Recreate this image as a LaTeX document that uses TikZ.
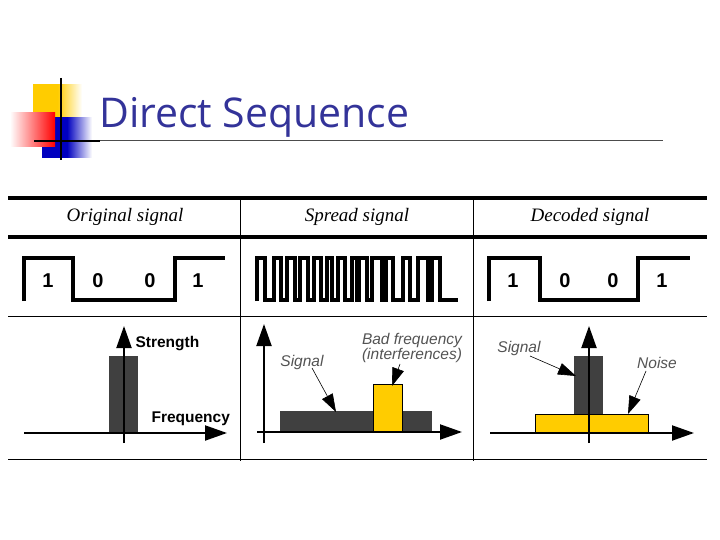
\documentclass[tikz,border=0pt]{standalone}
\usepackage{fontspec}
\setmainfont{Liberation Serif}
\setsansfont{Liberation Sans}
\newfontfamily\titlefont{Open Sans}
\usetikzlibrary{arrows.meta}
\definecolor{dark}{HTML}{404040}
\definecolor{gold}{HTML}{FFCC00}
\definecolor{navy}{HTML}{333399}
\tikzset{
 axis/.style={line width=2pt,-{Triangle[length=22pt,width=15pt]}},
 sig/.style={line width=3.5pt},
 rule/.style={line width=3.5pt},
 thin/.style={line width=1pt},
 hdr/.style={font=\itshape\fontsize{19}{21}\selectfont},
 digit/.style={font=\sffamily\bfseries\fontsize{20}{22}\selectfont},
 lab/.style={font=\sffamily\bfseries\fontsize{15.5}{17}\selectfont,anchor=west},
 note/.style={font=\sffamily\itshape\fontsize{15.5}{14}\selectfont,text=dark!90,align=center,inner sep=0pt},
 ptr/.style={line width=0.6pt,-{Triangle[length=18pt,width=12pt]}},
}
\begin{document}
\begin{tikzpicture}[x=1pt,y=-1pt]
\useasboundingbox (0,0) rectangle (720,540);
% logo
\shade[left color=gold,right color=white,middle color=gold] (33,85) rectangle (82,118);
\shade[left color=blue!75!black,right color=white,middle color=blue!75!black] (42,118) rectangle (92,158);
\shade[left color=white,right color=red] (10,113) rectangle (55,147);
\draw[line width=2pt] (61,78) -- (61,160);
\draw[line width=2pt] (34,141) -- (100,141);
\draw[line width=1pt,black!70] (100,141) -- (663,141);
\node[anchor=base west,text=navy,font=\titlefont\fontsize{41}{44}\selectfont,inner sep=0] (title) at (99,128) {Direct Sequence};
% table
\draw[rule] (8,198) -- (707,198);
\draw[rule] (8,237) -- (707,237);
\draw[thin] (8,316) -- (707,316);
\draw[thin] (8,459) -- (707,459);
\draw[thin] (240,198) -- (240,461);
\draw[thin] (473,198) -- (473,461);
\node[hdr] (h1) at (125,217) {Original signal};
\node[hdr] (h2) at (357,217) {Spread signal};
\node[hdr] (h3) at (590,217) {Decoded signal};
% original signal
\draw[sig] (24,301) -- (24,258) -- (73,258) -- (73,300) -- (175,300) -- (175,258) -- (225,258);
\node[digit] (d1) at (48,281) {1};
\node[digit] (d2) at (98,281) {0};
\node[digit] (d3) at (150,281) {0};
\node[digit] (d4) at (198,281) {1};
% decoded signal
\draw[sig] (489,301) -- (489,258) -- (540,258) -- (540,300) -- (638,300) -- (638,258) -- (690,258);
\node[digit] (e1) at (513,281) {1};
\node[digit] (e2) at (565,281) {0};
\node[digit] (e3) at (613,281) {0};
\node[digit] (e4) at (662,281) {1};
% spread signal
\draw[sig] (257,301) -- (257,258) -- (265,258) -- (265,300) -- (274,300) -- (274,258) -- (281,258) -- (281,300)
 -- (287,300) -- (287,258) -- (295,258) -- (295,300) -- (300,300) -- (300,258) -- (308,258) -- (308,300)
 -- (314,300) -- (314,258) -- (321,258) -- (321,300) -- (327,300) -- (327,258) -- (332,258) -- (332,300)
 -- (338,300) -- (338,258) -- (345,258) -- (345,300) -- (352,300) -- (352,258) -- (357,258) -- (357,300)
 -- (359,300) -- (359,258) -- (367,258) -- (367,300) -- (372,300) -- (372,258) -- (382,258) -- (382,300)
 -- (386,300) -- (386,258) -- (393,258) -- (393,300) -- (403,300) -- (403,258) -- (410,258) -- (410,300)
 -- (418,300) -- (418,258) -- (428,258) -- (428,300) -- (432,300) -- (432,258) -- (440,258) -- (440,300) -- (458,300);
% panel 1
\fill[dark] (109,356) rectangle (138,433);
\coordinate (a1s) at (24,433); \coordinate (a1e) at (227,433);
\coordinate (b1s) at (124,443); \coordinate (b1e) at (124,326);
\draw[axis] (a1s) -- (a1e);
\draw[axis] (b1s) -- (b1e);
\node[lab] (str) at (132,344) {Strength};
\node[lab] (frq) at (148,419) {Frequency};
% panel 2
\fill[dark] (280,411) rectangle (432,432);
\draw[fill=gold,line width=0.8pt] (373,384) rectangle (402,432);
\coordinate (a2s) at (257,432); \coordinate (a2e) at (462,432);
\coordinate (b2s) at (264,443); \coordinate (b2e) at (264,324);
\draw[axis] (a2s) -- (a2e);
\draw[axis] (b2s) -- (b2e);
\node[note] (s2) at (302,362) {Signal};
\node[note] (bad) at (412,348) {Bad frequency\\(interferences)};
\coordinate (s2t) at (336,412);
\coordinate (badt) at (392,386);
\draw[ptr] (312,368) -- (s2t);
\draw[ptr] (400,364) -- (badt);
% panel 3
\fill[dark] (574,356) rectangle (603,415);
\draw[fill=gold,line width=0.8pt] (535,414) rectangle (648,432);
\coordinate (a3s) at (490,433); \coordinate (a3e) at (694,433);
\coordinate (b3s) at (589,443); \coordinate (b3e) at (589,326);
\draw[axis] (a3s) -- (a3e);
\draw[axis] (b3s) -- (b3e);
\node[note] (s3) at (519,348) {Signal};
\node[note] (noise) at (657,363) {Noise};
\coordinate (s3t) at (576,376);
\coordinate (nt) at (628,414);
\draw[ptr] (530,356) -- (s3t);
\draw[ptr] (646,371) -- (nt);
\end{tikzpicture}
\end{document}
